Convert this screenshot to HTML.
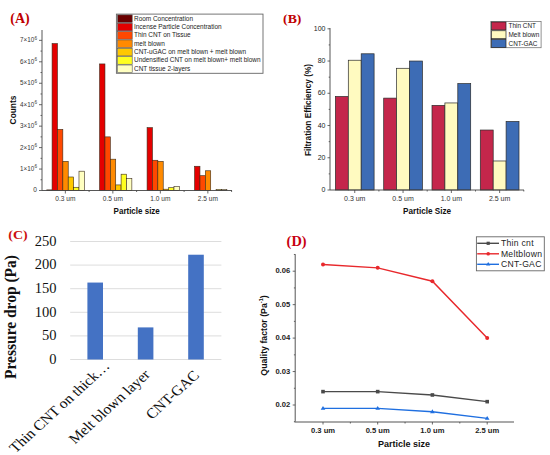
<!DOCTYPE html>
<html><head><meta charset="utf-8"><style>
html,body{margin:0;padding:0;background:#fff;}
svg{display:block;}
</style></head><body>
<svg width="550" height="455" viewBox="0 0 550 455">
<rect width="550" height="455" fill="#fff"/>
<text x="10.3" y="23.1" style="font-family:'Liberation Serif',serif;font-weight:bold;font-size:14px" fill="#c00000">(A)</text>
<rect x="46.70" y="189.90" width="5.38" height="0.60" fill="#6a0000" stroke="#3a2a1a" stroke-width="0.6"/>
<rect x="52.08" y="43.57" width="5.38" height="146.93" fill="#e40000" stroke="#3a2a1a" stroke-width="0.6"/>
<rect x="57.46" y="129.37" width="5.38" height="61.13" fill="#ff4800" stroke="#3a2a1a" stroke-width="0.6"/>
<rect x="62.84" y="161.33" width="5.38" height="29.17" fill="#ff8a00" stroke="#3a2a1a" stroke-width="0.6"/>
<rect x="68.22" y="176.99" width="5.38" height="13.51" fill="#ffc800" stroke="#3a2a1a" stroke-width="0.6"/>
<rect x="73.60" y="187.28" width="5.38" height="3.22" fill="#ffff20" stroke="#3a2a1a" stroke-width="0.6"/>
<rect x="78.98" y="171.19" width="5.38" height="19.30" fill="#ffffc0" stroke="#3a2a1a" stroke-width="0.6"/>
<rect x="99.58" y="63.94" width="5.38" height="126.56" fill="#e40000" stroke="#3a2a1a" stroke-width="0.6"/>
<rect x="104.96" y="136.88" width="5.38" height="53.62" fill="#ff4800" stroke="#3a2a1a" stroke-width="0.6"/>
<rect x="110.34" y="159.18" width="5.38" height="31.32" fill="#ff8a00" stroke="#3a2a1a" stroke-width="0.6"/>
<rect x="115.72" y="184.92" width="5.38" height="5.58" fill="#ffc800" stroke="#3a2a1a" stroke-width="0.6"/>
<rect x="121.10" y="174.20" width="5.38" height="16.30" fill="#ffff20" stroke="#3a2a1a" stroke-width="0.6"/>
<rect x="126.48" y="178.49" width="5.38" height="12.01" fill="#ffffc0" stroke="#3a2a1a" stroke-width="0.6"/>
<rect x="147.08" y="127.65" width="5.38" height="62.85" fill="#e40000" stroke="#3a2a1a" stroke-width="0.6"/>
<rect x="152.46" y="160.26" width="5.38" height="30.24" fill="#ff4800" stroke="#3a2a1a" stroke-width="0.6"/>
<rect x="157.84" y="161.33" width="5.38" height="29.17" fill="#ff8a00" stroke="#3a2a1a" stroke-width="0.6"/>
<rect x="163.22" y="189.21" width="5.38" height="1.29" fill="#ffc800" stroke="#3a2a1a" stroke-width="0.6"/>
<rect x="168.60" y="187.71" width="5.38" height="2.79" fill="#ffff20" stroke="#3a2a1a" stroke-width="0.6"/>
<rect x="173.98" y="186.64" width="5.38" height="3.86" fill="#ffffc0" stroke="#3a2a1a" stroke-width="0.6"/>
<rect x="194.58" y="166.26" width="5.38" height="24.24" fill="#e40000" stroke="#3a2a1a" stroke-width="0.6"/>
<rect x="199.96" y="175.70" width="5.38" height="14.80" fill="#ff4800" stroke="#3a2a1a" stroke-width="0.6"/>
<rect x="205.34" y="170.77" width="5.38" height="19.73" fill="#ff8a00" stroke="#3a2a1a" stroke-width="0.6"/>
<rect x="216.10" y="189.64" width="5.38" height="0.86" fill="#ffff20" stroke="#3a2a1a" stroke-width="0.6"/>
<rect x="221.48" y="189.64" width="5.38" height="0.86" fill="#ffffc0" stroke="#3a2a1a" stroke-width="0.6"/>
<path d="M42.0 30.0V190.5H232.0" fill="none" stroke="#444" stroke-width="0.9"/>
<path d="M39.0 190.50H42.0" stroke="#444" stroke-width="0.8"/>
<path d="M40.5 179.78H42.0" stroke="#444" stroke-width="0.8"/>
<text x="36.8" y="191.80" text-anchor="end" style="font-family:'Liberation Sans',sans-serif;font-size:6.6px" fill="#333">0</text>
<path d="M39.0 169.05H42.0" stroke="#444" stroke-width="0.8"/>
<path d="M40.5 158.33H42.0" stroke="#444" stroke-width="0.8"/>
<text x="34.3" y="170.95" text-anchor="end" style="font-family:'Liberation Sans',sans-serif;font-size:6.3px" fill="#333">1×10</text>
<text x="34.6" y="168.35" style="font-family:'Liberation Sans',sans-serif;font-size:4.7px" fill="#333">6</text>
<path d="M39.0 147.60H42.0" stroke="#444" stroke-width="0.8"/>
<path d="M40.5 136.88H42.0" stroke="#444" stroke-width="0.8"/>
<text x="34.3" y="149.50" text-anchor="end" style="font-family:'Liberation Sans',sans-serif;font-size:6.3px" fill="#333">2×10</text>
<text x="34.6" y="146.90" style="font-family:'Liberation Sans',sans-serif;font-size:4.7px" fill="#333">6</text>
<path d="M39.0 126.15H42.0" stroke="#444" stroke-width="0.8"/>
<path d="M40.5 115.43H42.0" stroke="#444" stroke-width="0.8"/>
<text x="34.3" y="128.05" text-anchor="end" style="font-family:'Liberation Sans',sans-serif;font-size:6.3px" fill="#333">3×10</text>
<text x="34.6" y="125.45" style="font-family:'Liberation Sans',sans-serif;font-size:4.7px" fill="#333">6</text>
<path d="M39.0 104.70H42.0" stroke="#444" stroke-width="0.8"/>
<path d="M40.5 93.98H42.0" stroke="#444" stroke-width="0.8"/>
<text x="34.3" y="106.60" text-anchor="end" style="font-family:'Liberation Sans',sans-serif;font-size:6.3px" fill="#333">4×10</text>
<text x="34.6" y="104.00" style="font-family:'Liberation Sans',sans-serif;font-size:4.7px" fill="#333">6</text>
<path d="M39.0 83.25H42.0" stroke="#444" stroke-width="0.8"/>
<path d="M40.5 72.53H42.0" stroke="#444" stroke-width="0.8"/>
<text x="34.3" y="85.15" text-anchor="end" style="font-family:'Liberation Sans',sans-serif;font-size:6.3px" fill="#333">5×10</text>
<text x="34.6" y="82.55" style="font-family:'Liberation Sans',sans-serif;font-size:4.7px" fill="#333">6</text>
<path d="M39.0 61.80H42.0" stroke="#444" stroke-width="0.8"/>
<path d="M40.5 51.08H42.0" stroke="#444" stroke-width="0.8"/>
<text x="34.3" y="63.70" text-anchor="end" style="font-family:'Liberation Sans',sans-serif;font-size:6.3px" fill="#333">6×10</text>
<text x="34.6" y="61.10" style="font-family:'Liberation Sans',sans-serif;font-size:4.7px" fill="#333">6</text>
<path d="M39.0 40.35H42.0" stroke="#444" stroke-width="0.8"/>
<text x="34.3" y="42.25" text-anchor="end" style="font-family:'Liberation Sans',sans-serif;font-size:6.3px" fill="#333">7×10</text>
<text x="34.6" y="39.65" style="font-family:'Liberation Sans',sans-serif;font-size:4.7px" fill="#333">6</text>
<path d="M65.35 190.5v3" stroke="#444" stroke-width="0.8"/>
<path d="M89.10 190.5v1.5" stroke="#444" stroke-width="0.8"/>
<text transform="translate(65.35 200.80) scale(0.94 1)" text-anchor="middle" style="font-family:'Liberation Sans',sans-serif;font-size:7px" fill="#333">0.3 um</text>
<path d="M112.85 190.5v3" stroke="#444" stroke-width="0.8"/>
<path d="M136.60 190.5v1.5" stroke="#444" stroke-width="0.8"/>
<text transform="translate(112.85 200.80) scale(0.94 1)" text-anchor="middle" style="font-family:'Liberation Sans',sans-serif;font-size:7px" fill="#333">0.5 um</text>
<path d="M160.35 190.5v3" stroke="#444" stroke-width="0.8"/>
<path d="M184.10 190.5v1.5" stroke="#444" stroke-width="0.8"/>
<text transform="translate(160.35 200.80) scale(0.94 1)" text-anchor="middle" style="font-family:'Liberation Sans',sans-serif;font-size:7px" fill="#333">1.0 um</text>
<path d="M207.85 190.5v3" stroke="#444" stroke-width="0.8"/>
<path d="M231.60 190.5v1.5" stroke="#444" stroke-width="0.8"/>
<text transform="translate(207.85 200.80) scale(0.94 1)" text-anchor="middle" style="font-family:'Liberation Sans',sans-serif;font-size:7px" fill="#333">2.5 um</text>
<text transform="translate(136.7 214) scale(0.89 1)" text-anchor="middle" style="font-family:'Liberation Sans',sans-serif;font-weight:bold;font-size:9px" fill="#111">Particle size</text>
<text transform="translate(16.4 110) rotate(-90)" text-anchor="middle" style="font-family:'Liberation Sans',sans-serif;font-weight:bold;font-size:8.4px" fill="#111">Counts</text>
<rect x="116.4" y="14.1" width="146.6" height="59.2" fill="#fff" stroke="#666" stroke-width="0.9"/>
<rect x="117.6" y="14.90" width="14.6" height="7.6" fill="#6a0000" stroke="#555" stroke-width="0.6"/>
<text transform="translate(134 20.50) scale(0.935 1)" style="font-family:'Liberation Sans',sans-serif;font-size:6.9px" fill="#222">Room Concentration</text>
<rect x="117.6" y="23.25" width="14.6" height="7.6" fill="#e40000" stroke="#555" stroke-width="0.6"/>
<text transform="translate(134 28.85) scale(0.935 1)" style="font-family:'Liberation Sans',sans-serif;font-size:6.9px" fill="#222">Incense Particle Concentration</text>
<rect x="117.6" y="31.60" width="14.6" height="7.6" fill="#ff4800" stroke="#555" stroke-width="0.6"/>
<text transform="translate(134 37.20) scale(0.935 1)" style="font-family:'Liberation Sans',sans-serif;font-size:6.9px" fill="#222">Thin CNT on Tissue</text>
<rect x="117.6" y="39.95" width="14.6" height="7.6" fill="#ff8a00" stroke="#555" stroke-width="0.6"/>
<text transform="translate(134 45.55) scale(0.935 1)" style="font-family:'Liberation Sans',sans-serif;font-size:6.9px" fill="#222">melt blown</text>
<rect x="117.6" y="48.30" width="14.6" height="7.6" fill="#ffc800" stroke="#555" stroke-width="0.6"/>
<text transform="translate(134 53.90) scale(0.935 1)" style="font-family:'Liberation Sans',sans-serif;font-size:6.9px" fill="#222">CNT-uGAC on melt blown + melt blown</text>
<rect x="117.6" y="56.65" width="14.6" height="7.6" fill="#ffff20" stroke="#555" stroke-width="0.6"/>
<text transform="translate(134 62.25) scale(0.935 1)" style="font-family:'Liberation Sans',sans-serif;font-size:6.9px" fill="#222">Undensified CNT on melt blown+ melt blown</text>
<rect x="117.6" y="65.00" width="14.6" height="7.6" fill="#ffffc0" stroke="#555" stroke-width="0.6"/>
<text transform="translate(134 70.60) scale(0.935 1)" style="font-family:'Liberation Sans',sans-serif;font-size:6.9px" fill="#222">CNT tissue 2-layers</text>
<text transform="translate(283.1 22.8) scale(1.12 1)" style="font-family:'Liberation Serif',serif;font-weight:bold;font-size:12.3px" fill="#c00000">(B)</text>
<rect x="335.40" y="96.50" width="12.90" height="93.50" fill="#c4264b" stroke="#2a2a2a" stroke-width="0.7"/>
<rect x="348.30" y="60.23" width="12.90" height="129.77" fill="#fffac0" stroke="#2a2a2a" stroke-width="0.7"/>
<rect x="361.20" y="53.79" width="12.90" height="136.21" fill="#3d6cb5" stroke="#2a2a2a" stroke-width="0.7"/>
<rect x="383.70" y="98.12" width="12.90" height="91.88" fill="#c4264b" stroke="#2a2a2a" stroke-width="0.7"/>
<rect x="396.60" y="68.29" width="12.90" height="121.71" fill="#fffac0" stroke="#2a2a2a" stroke-width="0.7"/>
<rect x="409.50" y="61.04" width="12.90" height="128.96" fill="#3d6cb5" stroke="#2a2a2a" stroke-width="0.7"/>
<rect x="432.00" y="105.37" width="12.90" height="84.63" fill="#c4264b" stroke="#2a2a2a" stroke-width="0.7"/>
<rect x="444.90" y="102.95" width="12.90" height="87.05" fill="#fffac0" stroke="#2a2a2a" stroke-width="0.7"/>
<rect x="457.80" y="83.61" width="12.90" height="106.39" fill="#3d6cb5" stroke="#2a2a2a" stroke-width="0.7"/>
<rect x="480.30" y="130.03" width="12.90" height="59.97" fill="#c4264b" stroke="#2a2a2a" stroke-width="0.7"/>
<rect x="493.20" y="160.98" width="12.90" height="29.02" fill="#fffac0" stroke="#2a2a2a" stroke-width="0.7"/>
<rect x="506.10" y="121.49" width="12.90" height="68.51" fill="#3d6cb5" stroke="#2a2a2a" stroke-width="0.7"/>
<path d="M330.0 28.0V190.0H524.0" fill="none" stroke="#444" stroke-width="0.9"/>
<path d="M327.5 190.00H330.0" stroke="#444" stroke-width="0.8"/>
<path d="M328.7 173.88H330.0" stroke="#444" stroke-width="0.8"/>
<text x="325.5" y="192.20" text-anchor="end" style="font-family:'Liberation Sans',sans-serif;font-size:7px" fill="#222">0</text>
<path d="M327.5 157.76H330.0" stroke="#444" stroke-width="0.8"/>
<path d="M328.7 141.64H330.0" stroke="#444" stroke-width="0.8"/>
<text x="325.5" y="159.96" text-anchor="end" style="font-family:'Liberation Sans',sans-serif;font-size:7px" fill="#222">20</text>
<path d="M327.5 125.52H330.0" stroke="#444" stroke-width="0.8"/>
<path d="M328.7 109.40H330.0" stroke="#444" stroke-width="0.8"/>
<text x="325.5" y="127.72" text-anchor="end" style="font-family:'Liberation Sans',sans-serif;font-size:7px" fill="#222">40</text>
<path d="M327.5 93.28H330.0" stroke="#444" stroke-width="0.8"/>
<path d="M328.7 77.16H330.0" stroke="#444" stroke-width="0.8"/>
<text x="325.5" y="95.48" text-anchor="end" style="font-family:'Liberation Sans',sans-serif;font-size:7px" fill="#222">60</text>
<path d="M327.5 61.04H330.0" stroke="#444" stroke-width="0.8"/>
<path d="M328.7 44.92H330.0" stroke="#444" stroke-width="0.8"/>
<text x="325.5" y="63.24" text-anchor="end" style="font-family:'Liberation Sans',sans-serif;font-size:7px" fill="#222">80</text>
<path d="M327.5 28.80H330.0" stroke="#444" stroke-width="0.8"/>
<text x="325.5" y="31.00" text-anchor="end" style="font-family:'Liberation Sans',sans-serif;font-size:7px" fill="#222">100</text>
<path d="M354.75 190.0v3" stroke="#444" stroke-width="0.8"/>
<path d="M378.90 190.0v1.5" stroke="#444" stroke-width="0.8"/>
<text x="354.75" y="200.50" text-anchor="middle" style="font-family:'Liberation Sans',sans-serif;font-size:7px" fill="#333">0.3 um</text>
<path d="M403.05 190.0v3" stroke="#444" stroke-width="0.8"/>
<path d="M427.20 190.0v1.5" stroke="#444" stroke-width="0.8"/>
<text x="403.05" y="200.50" text-anchor="middle" style="font-family:'Liberation Sans',sans-serif;font-size:7px" fill="#333">0.5 um</text>
<path d="M451.35 190.0v3" stroke="#444" stroke-width="0.8"/>
<path d="M475.50 190.0v1.5" stroke="#444" stroke-width="0.8"/>
<text x="451.35" y="200.50" text-anchor="middle" style="font-family:'Liberation Sans',sans-serif;font-size:7px" fill="#333">1.0 um</text>
<path d="M499.65 190.0v3" stroke="#444" stroke-width="0.8"/>
<path d="M523.80 190.0v1.5" stroke="#444" stroke-width="0.8"/>
<text x="499.65" y="200.50" text-anchor="middle" style="font-family:'Liberation Sans',sans-serif;font-size:7px" fill="#333">2.5 um</text>
<text transform="translate(427.1 214) scale(0.96 1)" text-anchor="middle" style="font-family:'Liberation Sans',sans-serif;font-weight:bold;font-size:8.5px" fill="#111">Particle Size</text>
<text transform="translate(311.4 110) rotate(-90)" text-anchor="middle" style="font-family:'Liberation Sans',sans-serif;font-weight:bold;font-size:8.3px" fill="#111">Filtration Efficiency (%)</text>
<rect x="490.8" y="21.5" width="50.3" height="26.2" fill="#fff" stroke="#777" stroke-width="0.8"/>
<rect x="491.6" y="22.00" width="14.4" height="7.9" fill="#c4264b" stroke="#222" stroke-width="0.7"/>
<text transform="translate(508.5 28.20) scale(0.92 1)" style="font-family:'Liberation Sans',sans-serif;font-size:7px" fill="#222">Thin CNT</text>
<rect x="491.6" y="30.75" width="14.4" height="7.9" fill="#fffac0" stroke="#222" stroke-width="0.7"/>
<text transform="translate(508.5 36.95) scale(0.92 1)" style="font-family:'Liberation Sans',sans-serif;font-size:7px" fill="#222">Melt blown</text>
<rect x="491.6" y="39.50" width="14.4" height="7.9" fill="#3d6cb5" stroke="#222" stroke-width="0.7"/>
<text transform="translate(508.5 45.70) scale(0.92 1)" style="font-family:'Liberation Sans',sans-serif;font-size:7px" fill="#222">CNT-GAC</text>
<text transform="translate(8.3 238.9) scale(1.14 1)" style="font-family:'Liberation Serif',serif;font-weight:bold;font-size:12.3px" fill="#cc1010">(C)</text>
<path d="M70.2 359.50H221.4" stroke="#d9d9d9" stroke-width="0.9"/>
<text x="56.4" y="363.80" text-anchor="end" style="font-family:'Liberation Serif',serif;font-size:14.5px" fill="#111">0</text>
<path d="M70.2 335.90H221.4" stroke="#d9d9d9" stroke-width="0.9"/>
<text x="56.4" y="340.20" text-anchor="end" style="font-family:'Liberation Serif',serif;font-size:14.5px" fill="#111">50</text>
<path d="M70.2 312.30H221.4" stroke="#d9d9d9" stroke-width="0.9"/>
<text x="56.4" y="316.60" text-anchor="end" style="font-family:'Liberation Serif',serif;font-size:14.5px" fill="#111">100</text>
<path d="M70.2 288.70H221.4" stroke="#d9d9d9" stroke-width="0.9"/>
<text x="56.4" y="293.00" text-anchor="end" style="font-family:'Liberation Serif',serif;font-size:14.5px" fill="#111">150</text>
<path d="M70.2 265.10H221.4" stroke="#d9d9d9" stroke-width="0.9"/>
<text x="56.4" y="269.40" text-anchor="end" style="font-family:'Liberation Serif',serif;font-size:14.5px" fill="#111">200</text>
<path d="M70.2 241.50H221.4" stroke="#d9d9d9" stroke-width="0.9"/>
<text x="56.4" y="245.80" text-anchor="end" style="font-family:'Liberation Serif',serif;font-size:14.5px" fill="#111">250</text>
<rect x="87.40" y="282.56" width="15.6" height="76.94" fill="#4472c4"/>
<rect x="137.80" y="327.40" width="15.6" height="32.10" fill="#4472c4"/>
<rect x="188.20" y="254.72" width="15.6" height="104.78" fill="#4472c4"/>
<text transform="translate(15.6 317) rotate(-90) scale(1 1.12)" text-anchor="middle" style="font-family:'Liberation Serif',serif;font-weight:bold;font-size:15.5px" fill="#111">Pressure drop (Pa)</text>
<text transform="translate(110.5 367) scale(1.1 1) rotate(-45)" text-anchor="end" style="font-family:'Liberation Serif',serif;font-size:14.2px" fill="#111">Thin CNT on thick…</text>
<text transform="translate(151 375.5) scale(1.1 1) rotate(-45)" text-anchor="end" style="font-family:'Liberation Serif',serif;font-size:14.2px" fill="#111">Melt blown layer</text>
<text transform="translate(200 376.3) scale(1.1 1) rotate(-45)" text-anchor="end" style="font-family:'Liberation Serif',serif;font-size:14.2px" fill="#111">CNT-GAC</text>
<text x="286.6" y="246" style="font-family:'Liberation Serif',serif;font-weight:bold;font-size:14.4px" fill="#c80010">(D)</text>
<path d="M295.2 254.2V422.0" fill="none" stroke="#555" stroke-width="1"/>
<path d="M294.7 422.0H514.0" fill="none" stroke="#8c8c8c" stroke-width="1.3"/>
<path d="M292.7 405.00H295.2" stroke="#444" stroke-width="0.8"/>
<path d="M293.9 421.73H295.2" stroke="#444" stroke-width="0.8"/>
<text transform="translate(290.2 407.20) scale(1.12 1)" text-anchor="end" style="font-family:'Liberation Sans',sans-serif;font-weight:bold;font-size:6.8px" fill="#222">0.02</text>
<path d="M292.7 371.55H295.2" stroke="#444" stroke-width="0.8"/>
<path d="M293.9 388.28H295.2" stroke="#444" stroke-width="0.8"/>
<text transform="translate(290.2 373.75) scale(1.12 1)" text-anchor="end" style="font-family:'Liberation Sans',sans-serif;font-weight:bold;font-size:6.8px" fill="#222">0.03</text>
<path d="M292.7 338.10H295.2" stroke="#444" stroke-width="0.8"/>
<path d="M293.9 354.83H295.2" stroke="#444" stroke-width="0.8"/>
<text transform="translate(290.2 340.30) scale(1.12 1)" text-anchor="end" style="font-family:'Liberation Sans',sans-serif;font-weight:bold;font-size:6.8px" fill="#222">0.04</text>
<path d="M292.7 304.65H295.2" stroke="#444" stroke-width="0.8"/>
<path d="M293.9 321.38H295.2" stroke="#444" stroke-width="0.8"/>
<text transform="translate(290.2 306.85) scale(1.12 1)" text-anchor="end" style="font-family:'Liberation Sans',sans-serif;font-weight:bold;font-size:6.8px" fill="#222">0.05</text>
<path d="M292.7 271.20H295.2" stroke="#444" stroke-width="0.8"/>
<path d="M293.9 287.93H295.2" stroke="#444" stroke-width="0.8"/>
<text transform="translate(290.2 273.40) scale(1.12 1)" text-anchor="end" style="font-family:'Liberation Sans',sans-serif;font-weight:bold;font-size:6.8px" fill="#222">0.06</text>
<path d="M293.9 254.47H295.2" stroke="#444" stroke-width="0.8"/>
<path d="M323.00 422.0v2.5" stroke="#444" stroke-width="0.8"/>
<path d="M350.35 422.0v1.5" stroke="#444" stroke-width="0.8"/>
<text transform="translate(323.00 433.00) scale(1.06 1)" text-anchor="middle" style="font-family:'Liberation Sans',sans-serif;font-weight:bold;font-size:7.2px" fill="#222">0.3 um</text>
<path d="M377.70 422.0v2.5" stroke="#444" stroke-width="0.8"/>
<path d="M405.05 422.0v1.5" stroke="#444" stroke-width="0.8"/>
<text transform="translate(377.70 433.00) scale(1.06 1)" text-anchor="middle" style="font-family:'Liberation Sans',sans-serif;font-weight:bold;font-size:7.2px" fill="#222">0.5 um</text>
<path d="M432.40 422.0v2.5" stroke="#444" stroke-width="0.8"/>
<path d="M459.80 422.0v1.5" stroke="#444" stroke-width="0.8"/>
<text transform="translate(432.40 433.00) scale(1.06 1)" text-anchor="middle" style="font-family:'Liberation Sans',sans-serif;font-weight:bold;font-size:7.2px" fill="#222">1.0 um</text>
<path d="M487.20 422.0v2.5" stroke="#444" stroke-width="0.8"/>
<text transform="translate(487.20 433.00) scale(1.06 1)" text-anchor="middle" style="font-family:'Liberation Sans',sans-serif;font-weight:bold;font-size:7.2px" fill="#222">2.5 um</text>
<text x="404" y="446.8" text-anchor="middle" style="font-family:'Liberation Sans',sans-serif;font-weight:bold;font-size:9px" fill="#111">Particle size</text>
<text transform="translate(266.7 335.5) rotate(-90)" text-anchor="middle" style="font-family:'Liberation Sans',sans-serif;font-weight:bold;font-size:8.75px" fill="#111">Quality factor (Pa<tspan dy="-3.4" style="font-size:5.6px">-1</tspan><tspan dy="3.4">)</tspan></text>
<polyline points="323.00,391.62 377.70,391.62 432.40,394.97 487.20,401.65" fill="none" stroke="#4a4a4a" stroke-width="1.45"/>
<rect x="321.20" y="389.82" width="3.60" height="3.60" fill="#4a4a4a"/>
<rect x="375.90" y="389.82" width="3.60" height="3.60" fill="#4a4a4a"/>
<rect x="430.60" y="393.17" width="3.60" height="3.60" fill="#4a4a4a"/>
<rect x="485.40" y="399.85" width="3.60" height="3.60" fill="#4a4a4a"/>
<polyline points="323.00,264.51 377.70,267.86 432.40,281.24 487.20,338.10" fill="none" stroke="#e8282c" stroke-width="1.45"/>
<circle cx="323.00" cy="264.51" r="2.00" fill="#e8282c"/>
<circle cx="377.70" cy="267.86" r="2.00" fill="#e8282c"/>
<circle cx="432.40" cy="281.24" r="2.00" fill="#e8282c"/>
<circle cx="487.20" cy="338.10" r="2.00" fill="#e8282c"/>
<polyline points="323.00,408.35 377.70,408.35 432.40,411.69 487.20,418.38" fill="none" stroke="#1f6fe0" stroke-width="1.45"/>
<path d="M323.00 405.94L325.30 409.79H320.70Z" fill="#1f6fe0"/>
<path d="M377.70 405.94L380.00 409.79H375.40Z" fill="#1f6fe0"/>
<path d="M432.40 409.29L434.70 413.13H430.10Z" fill="#1f6fe0"/>
<path d="M487.20 415.98L489.50 419.82H484.90Z" fill="#1f6fe0"/>
<rect x="476.4" y="236.8" width="67.9" height="34" fill="#fff" stroke="#666" stroke-width="0.9"/>
<path d="M477.2 243.30H499" stroke="#4a4a4a" stroke-width="1.4"/>
<rect x="486.60" y="241.70" width="3.20" height="3.20" fill="#4a4a4a"/>
<text x="500.9" y="246.40" style="font-family:'Liberation Sans',sans-serif;font-size:8.6px;letter-spacing:0.3px" fill="#222">Thin cnt</text>
<path d="M477.2 253.80H499" stroke="#e8282c" stroke-width="1.4"/>
<circle cx="488.20" cy="253.80" r="1.80" fill="#e8282c"/>
<text x="500.9" y="256.90" style="font-family:'Liberation Sans',sans-serif;font-size:8.6px;letter-spacing:0.3px" fill="#222">Meltblown</text>
<path d="M477.2 264.30H499" stroke="#1f6fe0" stroke-width="1.4"/>
<path d="M488.20 262.10L490.30 265.58H486.10Z" fill="#1f6fe0"/>
<text x="500.9" y="267.40" style="font-family:'Liberation Sans',sans-serif;font-size:8.6px;letter-spacing:0.3px" fill="#222">CNT-GAC</text>
</svg>
</body></html>
